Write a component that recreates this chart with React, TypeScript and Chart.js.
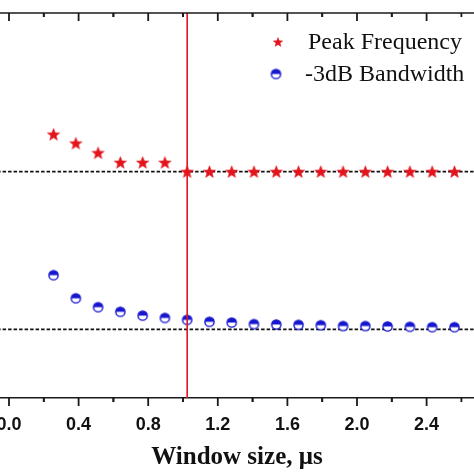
import { useEffect, useRef } from "react";
import { Chart, registerables } from "chart.js";

Chart.register(...registerables);

// Window lengths (μs) at which the spectrum was evaluated
const windowSizes = [
  0.256, 0.384, 0.512, 0.64, 0.768, 0.896, 1.024, 1.152, 1.28, 1.408,
  1.536, 1.664, 1.792, 1.92, 2.048, 2.176, 2.304, 2.432, 2.56,
];
// Peak frequency (MHz)
const peakFrequency = [
  6.85, 6.62, 6.37, 6.12, 6.12, 6.12, 5.88, 5.88, 5.88, 5.88,
  5.88, 5.88, 5.88, 5.88, 5.88, 5.88, 5.88, 5.88, 5.88,
];
// -3 dB bandwidth (MHz)
const bandwidth = [
  3.19, 2.59, 2.36, 2.24, 2.14, 2.08, 2.03, 1.98, 1.96, 1.92,
  1.91, 1.9, 1.89, 1.87, 1.87, 1.86, 1.85, 1.84, 1.84,
];
// Converged reference levels and the chosen window
const peakLevel = 5.88;
const bandwidthLevel = 1.785;
const selectedWindow = 1.024;

const seriesLabels = ["Peak Frequency", "-3dB Bandwidth"];
const xAxisTitle = "Window size, μs";
const xMin = -0.1;
const xMax = 2.72;
const xMajorStep = 0.4;
const xMinorStep = 0.2;

const RED = "#e3141c";
const BLUE = "#1616cf";
const AXIS = "#1a1a1a";

// canvas is wider than the viewport and shifted left
const CANVAS_W = 560;
const CANVAS_H = 474;
const SHIFT = 40;

function makeStar(outer: number, color: string): HTMLCanvasElement {
  const size = Math.ceil(outer * 2 + 2);
  const c = document.createElement("canvas");
  c.width = size;
  c.height = size;
  const g = c.getContext("2d")!;
  const cx = size / 2;
  const cy = size / 2 + outer * 0.095;
  const inner = outer * 0.42;
  g.beginPath();
  for (let i = 0; i < 10; i++) {
    const r = i % 2 === 0 ? outer : inner;
    const a = -Math.PI / 2 + (i * Math.PI) / 5;
    g.lineTo(cx + r * Math.cos(a), cy + r * Math.sin(a));
  }
  g.closePath();
  g.fillStyle = color;
  g.fill();
  g.strokeStyle = color;
  g.lineWidth = 0.6;
  g.stroke();
  return c;
}

function makeHalfDisc(r: number, color: string): HTMLCanvasElement {
  const size = Math.ceil(r * 2 + 3);
  const c = document.createElement("canvas");
  c.width = size;
  c.height = size;
  const g = c.getContext("2d")!;
  const cx = size / 2;
  const cy = size / 2;
  g.beginPath();
  g.arc(cx, cy, r, 0, Math.PI * 2);
  g.fillStyle = "#ffffff";
  g.fill();
  g.beginPath();
  g.arc(cx, cy, r, Math.PI, Math.PI * 2);
  g.closePath();
  g.fillStyle = color;
  g.fill();
  g.beginPath();
  g.arc(cx, cy, r, 0, Math.PI * 2);
  g.strokeStyle = color;
  g.lineWidth = 1.4;
  g.stroke();
  return c;
}

export default function App() {
  const canvasRef = useRef<HTMLCanvasElement | null>(null);

  useEffect(() => {
    const canvas = canvasRef.current;
    if (!canvas) return;

    const starImg = makeStar(6.4, RED);
    const discImg = makeHalfDisc(4.6, BLUE);
    const legendStar = makeStar(4.8, RED);

    const framePlugin = {
      id: "frame",
      afterDatasetsDraw(chart: any) {
        const { ctx, chartArea } = chart;
        const xs = chart.scales.x;
        const px = xs.getPixelForValue(selectedWindow);
        ctx.save();
        ctx.strokeStyle = RED;
        ctx.lineWidth = 1.6;
        ctx.beginPath();
        ctx.moveTo(px, chartArea.top);
        ctx.lineTo(px, chartArea.bottom);
        ctx.stroke();
        ctx.restore();
      },
      afterDraw(chart: any) {
        const { ctx, chartArea } = chart;
        const xs = chart.scales.x;
        ctx.save();
        // top spine
        ctx.strokeStyle = AXIS;
        ctx.lineWidth = 1.6;
        ctx.beginPath();
        ctx.moveTo(chartArea.left, chartArea.top);
        ctx.lineTo(chartArea.right, chartArea.top);
        ctx.stroke();
        // major + minor tick marks on top and bottom spines
        const marks: { v: number; major: boolean }[] = [];
        xs.ticks.forEach((t: any) => {
          marks.push({ v: t.value, major: true });
          marks.push({ v: t.value + xMinorStep, major: false });
          marks.push({ v: t.value - xMinorStep, major: false });
        });
        ctx.lineWidth = 1.8;
        marks.forEach((m) => {
          if (m.v < xMin || m.v > xMax) return;
          const p = xs.getPixelForValue(m.v);
          const len = m.major ? 8 : 4;
          ctx.beginPath();
          ctx.moveTo(p, chartArea.top);
          ctx.lineTo(p, chartArea.top + len);
          ctx.moveTo(p, chartArea.bottom);
          ctx.lineTo(p, chartArea.bottom + len);
          ctx.stroke();
        });
        // legend
        const lx = 278 + SHIFT;
        ctx.drawImage(legendStar, lx - legendStar.width / 2, 42 - legendStar.height / 2);
        ctx.drawImage(discImg, lx - 2 - discImg.width / 2, 74 - discImg.height / 2);
        ctx.fillStyle = "#111";
        ctx.font = "24px 'Liberation Serif', 'Times New Roman', serif";
        ctx.textBaseline = "alphabetic";
        ctx.textAlign = "left";
        ctx.fillText(seriesLabels[0], 308 + SHIFT, 48.5);
        ctx.fillText(seriesLabels[1], 305 + SHIFT, 81);
        ctx.restore();
      },
    };

    const chart = new Chart(canvas, {
      type: "scatter",
      data: {
        datasets: [
          {
            label: seriesLabels[0],
            data: windowSizes.map((x, i) => ({ x, y: peakFrequency[i] })),
            pointStyle: starImg as any,
            pointRadius: 7,
            showLine: false,
          },
          {
            label: seriesLabels[1],
            data: windowSizes.map((x, i) => ({ x, y: bandwidth[i] })),
            pointStyle: discImg as any,
            pointRadius: 5,
            showLine: false,
          },
          {
            label: "peak level",
            data: [
              { x: xMin, y: peakLevel },
              { x: xMax, y: peakLevel },
            ],
            showLine: true,
            pointRadius: 0,
            borderColor: "#111",
            borderWidth: 1.8,
            borderDash: [3.5, 2],
          },
          {
            label: "bandwidth level",
            data: [
              { x: xMin, y: bandwidthLevel },
              { x: xMax, y: bandwidthLevel },
            ],
            showLine: true,
            pointRadius: 0,
            borderColor: "#111",
            borderWidth: 1.8,
            borderDash: [3.5, 2],
          },
        ],
      },
      options: {
        animation: false,
        responsive: false,
        devicePixelRatio: 1,
        layout: {
          padding: { left: 31.6, right: CANVAS_W - 31.6 - 174 * (xMax - xMin), top: 13, bottom: 0 },
        },
        plugins: {
          legend: { display: false },
          tooltip: { enabled: false },
        },
        scales: {
          x: {
            type: "linear",
            position: "bottom",
            min: xMin,
            max: xMax,
            grid: { display: false },
            border: { display: true, color: AXIS, width: 1.6 },
            ticks: {
              stepSize: xMajorStep,
              includeBounds: false,
              autoSkip: false,
              maxRotation: 0,
              padding: 8,
              color: "#111",
              font: { family: "'Liberation Sans', Arial, sans-serif", size: 18, weight: "bold" },
              callback: (v: any) => Number(v).toFixed(1),
            },
            title: {
              display: true,
              text: xAxisTitle,
              color: "#111",
              font: { family: "'Liberation Serif', 'Times New Roman', serif", size: 25, weight: "bold" },
              padding: { top: 0, bottom: 1 },
            },
            afterFit: (scale: any) => {
              scale.height = 76;
            },
          },
          y: {
            display: false,
            min: 0,
            max: 10,
          },
        },
      },
      plugins: [framePlugin],
    });

    return () => chart.destroy();
  }, []);

  return (
    <div
      style={{
        position: "fixed",
        left: 0,
        top: 0,
        width: 474,
        height: 474,
        overflow: "hidden",
        background: "#ffffff",
      }}
    >
      <canvas
        ref={canvasRef}
        width={CANVAS_W}
        height={CANVAS_H}
        style={{ position: "absolute", left: -SHIFT, top: 0, width: CANVAS_W, height: CANVAS_H }}
      />
    </div>
  );
}
